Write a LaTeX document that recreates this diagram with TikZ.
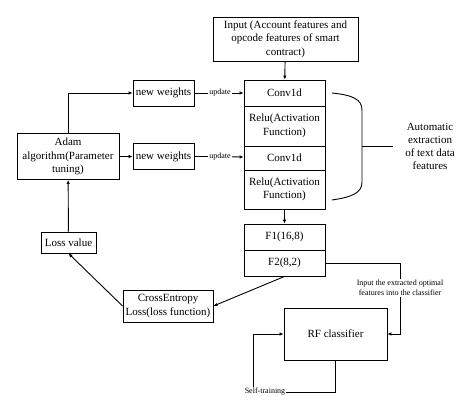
\documentclass[tikz,border=0pt]{standalone}
\usepackage{fontspec}
\setmainfont{Liberation Serif}
\usetikzlibrary{arrows.meta}

\begin{document}
\begin{tikzpicture}[
    x=1pt,y=-1pt,
    box/.style={draw,line width=.9pt,align=center,inner sep=1pt,font=\fontsize{11}{13.5}\selectfont},
    note/.style={inner sep=1pt,align=center,font=\fontsize{8}{10}\selectfont},
    arr/.style={line width=.9pt,-{Latex[length=4pt,width=3.5pt]}},
    ln/.style={line width=.9pt}
    ]
    \useasboundingbox (0,0) rectangle (474,413);
    % input and feature extraction stack
    \node[box,minimum width=145,minimum height=44](input) at (285.5,39){Input (Account features and\\opcode features of smart\\contract)};
    \node[box,minimum width=81,minimum height=26](conva) at (284.5,93){Conv1d};
    \node[box,minimum width=81,minimum height=40](relua) at (284.5,126){Relu(Activation\\Function)};
    \node[box,minimum width=81,minimum height=24](convb) at (284.5,158){Conv1d};
    \node[box,minimum width=81,minimum height=39](relub) at (284.5,189.5){Relu(Activation\\Function)};
    \node[box,minimum width=81,minimum height=26](fa) at (284.5,237){F1(16,8)};
    \node[box,minimum width=81,minimum height=26](fb) at (284.5,263){F2(8,2)};
    % weights and optimizer
    \node[box,minimum width=61,minimum height=26](nwa) at (163.5,93){new weights};
    \node[box,minimum width=61,minimum height=26](nwb) at (163.5,156.5){new weights};
    \node[box,minimum width=102,minimum height=46](adam) at (68,156.5){Adam\\algorithm(Parameter\\tuning)};
    \node[box,minimum width=55,minimum height=21](loss) at (68.5,242.5){Loss value};
    \node[box,minimum width=90,minimum height=32](ce) at (168,306){CrossEntropy\\Loss(loss function)};
    \node[box,minimum width=103,minimum height=52](rf) at (335.5,334){RF classifier};
    % labels
    \node[note](upa) at (220,93){update};
    \node[note](upb) at (220,156.5){update};
    \node[note](inlab) at (400,288){Input the extracted optimal\\features into the classifier};
    \node[note](self) at (265,392){Self-training};
    \node[align=center,inner xsep=12pt,font=\fontsize{11}{13}\selectfont](auto) at (430,146){Automatic\\extraction\\of text data\\features};

    \draw[arr] (input) -- (conva);
    \draw[arr] (relub) -- (fa);
    \draw[ln] (nwa) -- (upa);
    \draw[arr] (upa) -- (conva);
    \draw[ln] (nwb) -- (upb);
    \draw[arr] (upb) -- (convb);
    \draw[arr] (adam.north) |- (nwa.west);
    \draw[arr] (adam) -- (nwb);
    \draw[arr] (loss) -- (adam);
    \draw[arr] (fb.south) -- (ce.east);
    \draw[arr] (ce.west) -- (loss.south);
    \draw[ln] (fb.east) -| (inlab.north);
    \draw[arr] (inlab.south) |- (rf.east);
    \draw[ln] (rf.south) |- (self.east);
    \draw[arr] ([xshift=-12pt]self.north) |- (rf.west);
    % brace
    \draw[ln] (332,93) .. controls (352,95) and (362,99) .. (362,110) -- (362,182)
      .. controls (362,193) and (352,197) .. (332,200);
    \draw[ln] (362,146) -- (auto.west);
  \end{tikzpicture}
\end{document}
